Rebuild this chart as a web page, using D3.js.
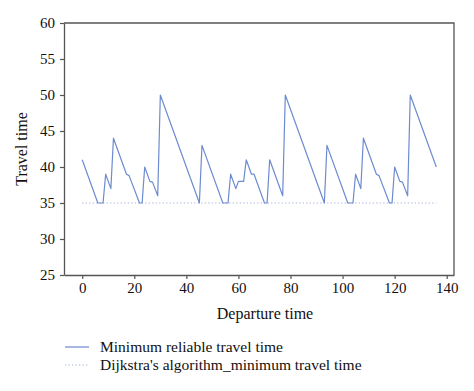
<!DOCTYPE html>
<html>
<head>
<meta charset="utf-8">
<script src="https://cdn.jsdelivr.net/npm/d3@7/dist/d3.min.js"></script>
<style>
  html, body { margin: 0; padding: 0; background: #fff; }
  svg { display: block; }
  svg text { font-family: "Liberation Serif", "DejaVu Serif", serif !important; fill: #111; }
</style>
</head>
<body>
<svg id="chart" width="474" height="391"></svg>
<script>
// Departure time (x) and minimum reliable travel time (y)
const departureTimes = [0, 6, 8, 9, 11, 12, 17, 18, 22, 23, 24, 26, 27, 29, 30, 45, 46, 54, 56, 57, 59, 60, 62, 63, 65, 66, 70, 71, 72, 77, 78, 93, 94, 102, 104, 105, 107, 108, 113, 114, 118, 119, 120, 122, 123, 125, 126, 136];
const reliableTravelTime = [41, 35, 35, 39, 37, 44, 39, 38.8, 35, 35, 40, 38, 37.9, 36, 50, 35, 43, 35, 35, 39, 37, 38, 38, 41, 39, 39, 35, 35, 41, 36, 50, 35, 43, 35, 35, 39, 37, 44, 39, 38.8, 35, 35, 40, 38, 37.9, 36, 50, 40];
// Dijkstra's minimum travel time (constant)
const dijkstraTimes = [0, 136];
const dijkstraTravelTime = [35, 35];

const xTicks = [0, 20, 40, 60, 80, 100, 120, 140];
const yTicks = [25, 30, 35, 40, 45, 50, 55, 60];
const seriesNames = ["Minimum reliable travel time", "Dijkstra's algorithm_minimum travel time"];

const svg = d3.select("#chart");
const mLeft = 64, mRight = 454, mTop = 23, mBottom = 275;

const x = d3.scaleLinear().domain([-7, 142.8]).range([mLeft, mRight]);
const y = d3.scaleLinear().domain([25, 60]).range([mBottom, mTop]);

const axisColor = "#555";

// Frame (top and right borders)
svg.append("path")
  .attr("d", `M${mLeft},${mTop}H${mRight}V${mBottom}`)
  .attr("fill", "none").attr("stroke", axisColor).attr("stroke-width", 1.3);

// Y axis
const yAxis = svg.append("g").attr("transform", `translate(${mLeft},0)`)
  .call(d3.axisLeft(y).tickValues(yTicks).tickSize(4).tickPadding(5).tickSizeOuter(0));
yAxis.select(".domain").attr("stroke", axisColor).attr("stroke-width", 1.3);
yAxis.selectAll(".tick line").attr("stroke", axisColor).attr("stroke-width", 1.2);
yAxis.selectAll("text").style("font-size", "15px").style("fill", "#111");

// X axis
const xAxis = svg.append("g").attr("transform", `translate(0,${mBottom})`)
  .call(d3.axisBottom(x).tickValues(xTicks).tickSize(4).tickPadding(3).tickSizeOuter(0));
xAxis.select(".domain").attr("stroke", axisColor).attr("stroke-width", 1.3);
xAxis.selectAll(".tick line").attr("stroke", axisColor).attr("stroke-width", 1.2);
xAxis.selectAll("text").style("font-size", "15px").style("fill", "#111");

// Dotted Dijkstra line
const dijData = dijkstraTimes.map((t, i) => [t, dijkstraTravelTime[i]]);
svg.append("path")
  .datum(dijData)
  .attr("d", d3.line().x(d => x(d[0])).y(d => y(d[1])))
  .attr("fill", "none").attr("stroke", "#9fb0d8").attr("stroke-width", 1.1)
  .attr("stroke-dasharray", "1.2,2.3");

// Reliable travel time line
const relData = departureTimes.map((t, i) => [t, reliableTravelTime[i]]);
svg.append("path")
  .datum(relData)
  .attr("d", d3.line().x(d => x(d[0])).y(d => y(d[1])))
  .attr("fill", "none").attr("stroke", "#6d8bd0").attr("stroke-width", 1.2)
  .attr("stroke-linejoin", "round");

// Axis titles
svg.append("text")
  .attr("x", 265).attr("y", 319)
  .attr("text-anchor", "middle").style("font-size", "16px")
  .text("Departure time");

svg.append("text")
  .attr("transform", `translate(27,149) rotate(-90)`)
  .attr("text-anchor", "middle").style("font-size", "16px")
  .text("Travel time");

// Legend
const legend = svg.append("g");
legend.append("line").attr("x1", 65).attr("x2", 89).attr("y1", 347).attr("y2", 347)
  .attr("stroke", "#6d8bd0").attr("stroke-width", 1.2);
legend.append("text").attr("x", 100).attr("y", 352).style("font-size", "15.5px").text(seriesNames[0]);
legend.append("line").attr("x1", 65).attr("x2", 89).attr("y1", 365).attr("y2", 365)
  .attr("stroke", "#9fb0d8").attr("stroke-width", 1.1).attr("stroke-dasharray", "1.2,2.3");
legend.append("text").attr("x", 100).attr("y", 370).style("font-size", "15.5px").text(seriesNames[1]);
</script>
</body>
</html>
